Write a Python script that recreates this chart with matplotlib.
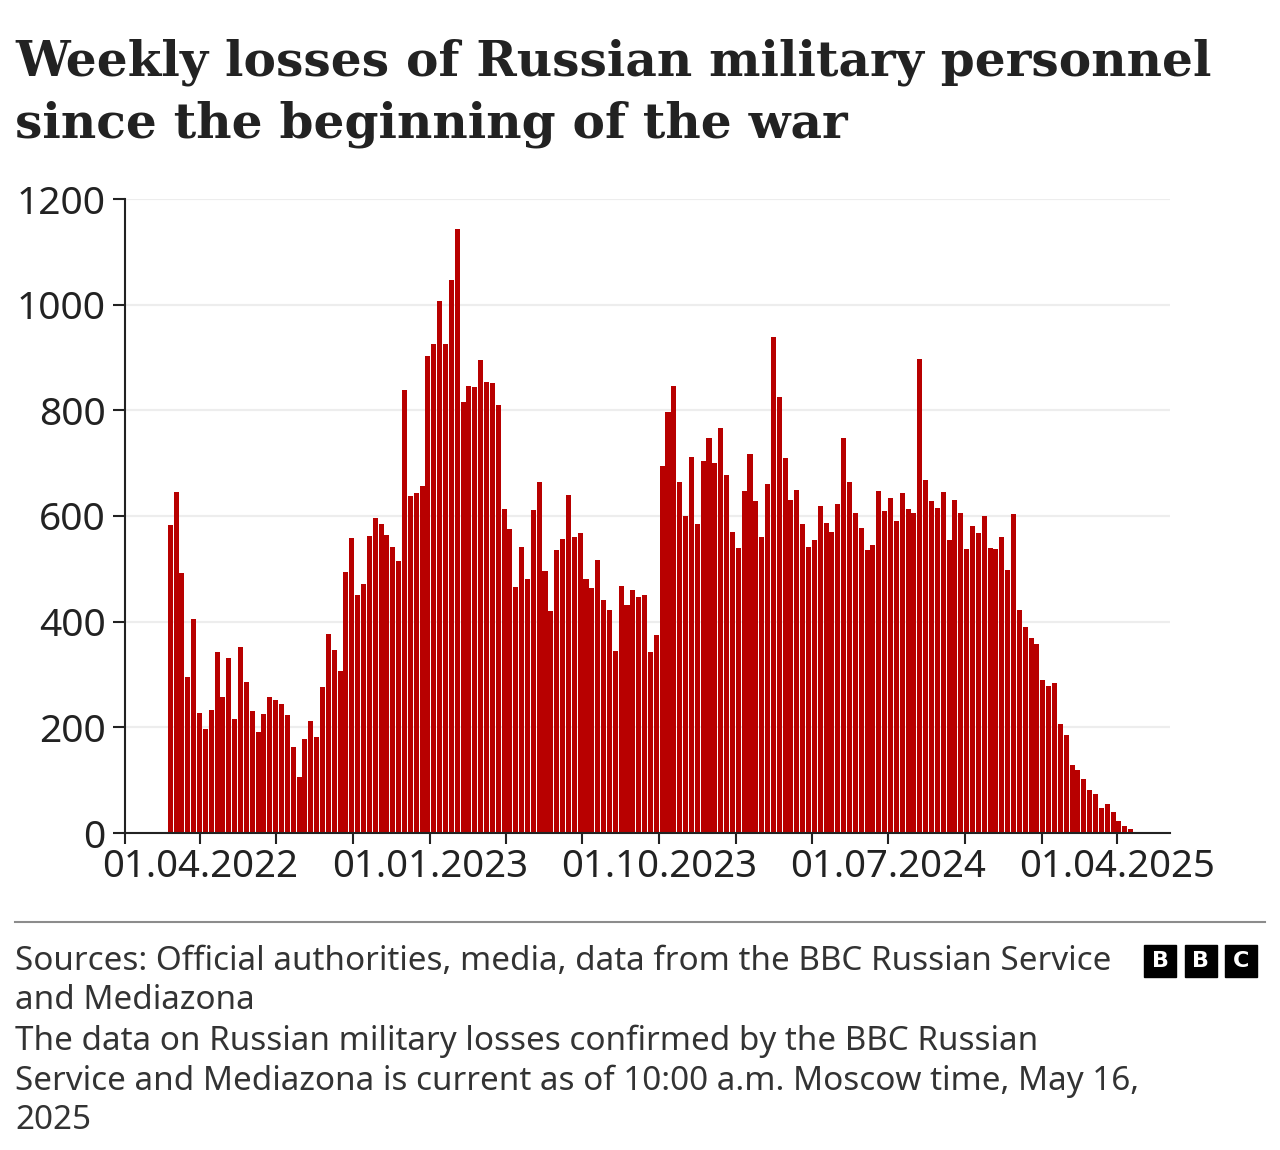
import numpy as np
import pandas as pd
import matplotlib
matplotlib.use("Agg")
import matplotlib.pyplot as plt
import matplotlib.dates as mdates
from matplotlib.patches import Rectangle
from matplotlib.lines import Line2D

# weekly confirmed losses, first week starting 24.02.2022
losses = [
    583, 646, 493, 295, 405, 227, 196, 233, 343, 257, 332, 215, 352, 286, 230, 192,
    226, 257, 251, 245, 224, 162, 106, 177, 212, 181, 277, 376, 347, 307, 494, 559,
    450, 471, 563, 597, 584, 564, 542, 514, 839, 638, 644, 656, 902, 926, 1006, 926,
    1047, 1143, 816, 846, 845, 896, 853, 851, 810, 614, 575, 465, 542, 480, 612, 665,
    495, 420, 536, 557, 640, 561, 567, 480, 464, 517, 441, 423, 344, 468, 432, 459,
    446, 450, 342, 375, 694, 797, 847, 665, 600, 712, 585, 705, 747, 700, 767, 678,
    569, 539, 648, 718, 628, 561, 661, 938, 826, 709, 631, 649, 584, 542, 555, 618,
    587, 569, 623, 748, 664, 605, 578, 535, 546, 648, 609, 634, 590, 643, 613, 605,
    898, 669, 628, 616, 645, 554, 631, 605, 538, 581, 568, 600, 539, 537, 561, 497,
    604, 423, 389, 370, 357, 290, 278, 284, 207, 185, 129, 120, 103, 81, 74, 48,
    55, 39, 22, 13, 7,
]
weeks = pd.date_range("2022-02-24", periods=len(losses), freq="7D")

yticks = [0, 200, 400, 600, 800, 1000, 1200]
quarter_ticks = pd.date_range("2022-01-01", "2025-04-01", freq="3MS")
labelled = ["01.04.2022", "01.01.2023", "01.10.2023", "01.07.2024", "01.04.2025"]

title_lines = ["Weekly losses of Russian military personnel",
               "since the beginning of the war"]
footer = [
    "Sources: Official authorities, media, data from the BBC Russian Service",
    "and Mediazona",
    "The data on Russian military losses confirmed by the BBC Russian",
    "Service and Mediazona is current as of 10:00 a.m. Moscow time, May 16,",
    "2025",
]

red = "#b80000"
dark = "#222222"
sans = ["Noto Sans", "DejaVu Sans"]

W, H = 1280, 1150
fig = plt.figure(figsize=(W / 100, H / 100), dpi=100)
ax = fig.add_axes([125 / W, 1 - 833 / H, (1170 - 125) / W, (833 - 199) / H])

ax.bar(weeks, losses, width=6.0, color=red, linewidth=0, zorder=3)

ax.set_xlim(pd.Timestamp("2022-01-01"), pd.Timestamp("2025-06-03"))
ax.set_ylim(0, 1200)
ax.set_yticks(yticks)
ax.set_yticklabels([str(v) for v in yticks], fontsize=28, color=dark, family=sans)
ax.yaxis.grid(True, color="#ededed", linewidth=1.6, zorder=0)
ax.tick_params(axis="y", length=9, width=1.5, color=dark, pad=5)

ax.set_xticks(quarter_ticks)
ax.set_xticklabels([d.strftime("%d.%m.%Y") if d.strftime("%d.%m.%Y") in labelled else ""
                    for d in quarter_ticks], fontsize=27.6, color=dark, family=sans)
ax.tick_params(axis="x", length=8, width=1.5, color=dark, pad=3)

for s in ["top", "right"]:
    ax.spines[s].set_visible(False)
for s in ["left", "bottom"]:
    ax.spines[s].set_color(dark)
    ax.spines[s].set_linewidth(1.5)
ax.spines["bottom"].set_zorder(4)

for line, yb in zip(title_lines, [75, 138]):
    fig.text(15 / W, 1 - yb / H, line, fontsize=35, fontweight="bold",
             family="DejaVu Serif", color=dark, va="baseline", ha="left")

fig.add_artist(Line2D([15 / W, 1265 / W], [1 - 922 / H, 1 - 922 / H], color="#8c8c8c", lw=1.5))

baselines = [970, 1009, 1050, 1090, 1129]
for line, yb in zip(footer, baselines):
    fig.text(15 / W, 1 - yb / H, line, fontsize=23.9, family=sans, color="#333333",
             va="baseline", ha="left")

for i, letter in enumerate("BBC"):
    x0 = 1144 + i * 40.5
    fig.add_artist(Rectangle((x0 / W, 1 - 977 / H), 32 / W, 32 / H, color="black",
                             transform=fig.transFigure))
    fig.text((x0 + 16) / W, 1 - 961 / H, letter, fontsize=16, fontweight="bold",
             family="DejaVu Sans", color="white", ha="center", va="center")

fig.savefig("out.png", dpi=100, facecolor="white")
